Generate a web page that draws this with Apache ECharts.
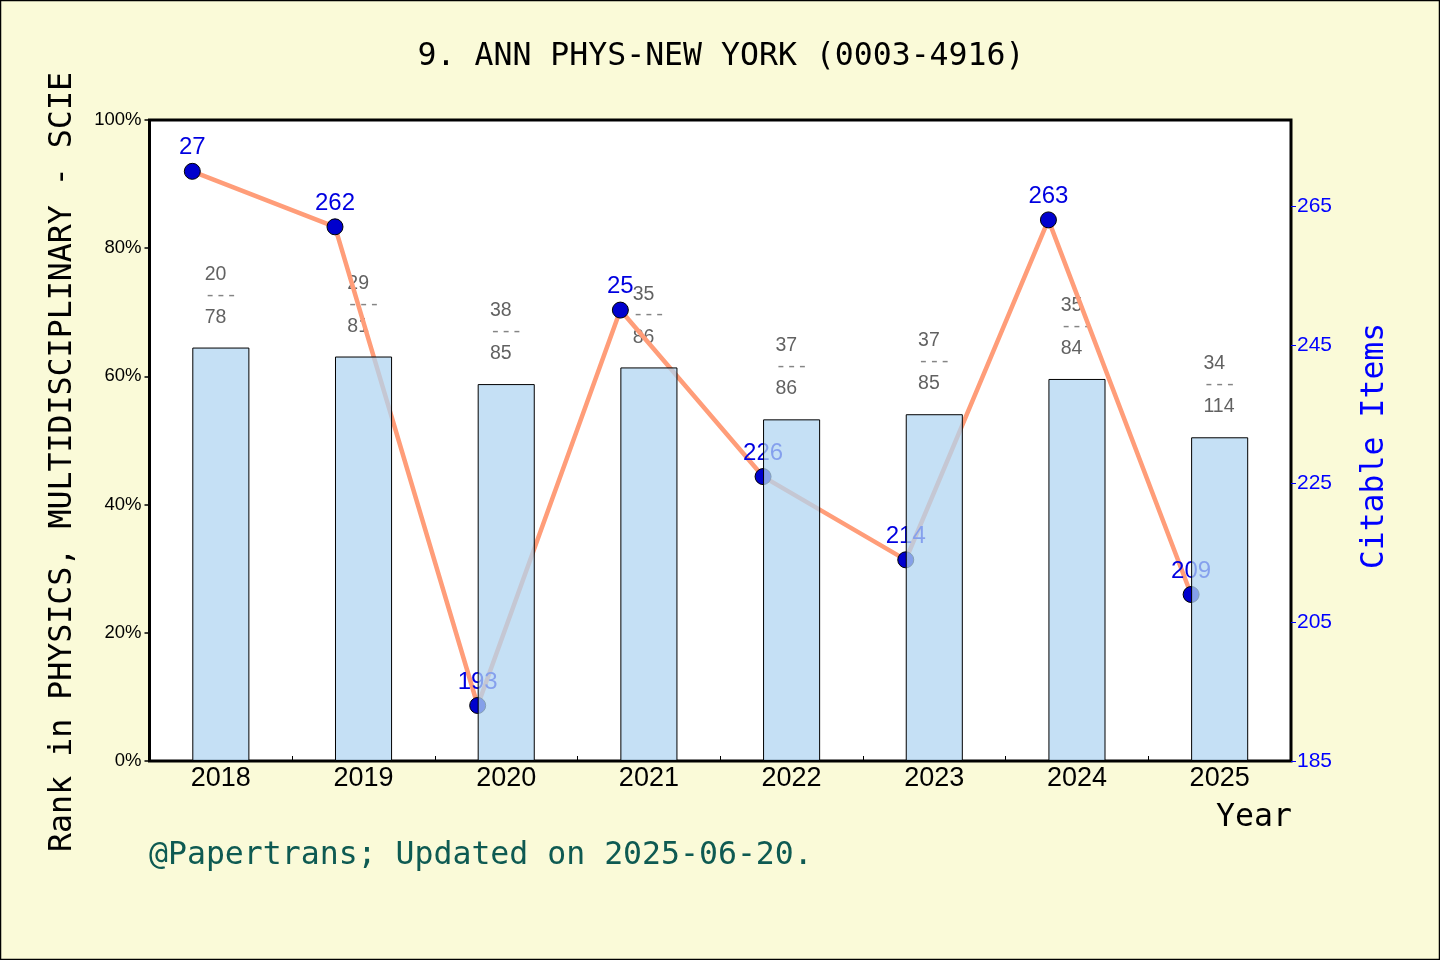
<!DOCTYPE html>
<html>
<head>
<meta charset="utf-8">
<script src="https://cdn.jsdelivr.net/npm/echarts@6/dist/echarts.min.js"></script>
<style>
html,body{margin:0;padding:0;background:#FAFAD8;}
#chart{width:1440px;height:960px;}
</style>
</head>
<body>
<div id="chart"></div>
<script>
// ---- data ----
const years = ['2018', '2019', '2020', '2021', '2022', '2023', '2024', '2025'];
const barPercent = [64.5, 63.1, 58.8, 61.4, 53.3, 54.1, 59.6, 50.5];
const rankNums = [20, 29, 38, 35, 37, 37, 35, 34];
const rankTotals = [78, 81, 85, 86, 86, 85, 84, 114];
const citableItems = [270, 262, 193, 250, 226, 214, 263, 209];
const rightTicks = [185, 205, 225, 245, 265];
const titleText = '9. ANN PHYS-NEW YORK (0003-4916)';
const leftName = 'Rank in PHYSICS, MULTIDISCIPLINARY - SCIE';
const rightName = 'Citable Items';
const xName = 'Year';
const footerText = '@Papertrans; Updated on 2025-06-20.';

// ---- style ----
const MONO = '"DejaVu Sans Mono", "Liberation Mono", monospace';
const SANS = '"Liberation Sans", Arial, sans-serif';
const LINE_SHIFT = 0.2; // line points sit on the bars' left edges (bar width = 0.4 category)

const chart = echarts.init(document.getElementById('chart'), null, {renderer: 'canvas'});

const lineData = citableItems.map((v, i) => [i - LINE_SHIFT, v]);
const labelData = barPercent.map((v, i) => ({value: v, rank: rankNums[i], total: rankTotals[i]}));

function gText(x, y, text, size, color, opts) {
  return Object.assign({
    type: 'text', x: x, y: y, silent: true, z: 100,
    style: {
      text: text, fontSize: size, fontFamily: MONO, fill: color,
      align: 'center', verticalAlign: 'middle',
      textAlign: 'center', textVerticalAlign: 'middle'
    }
  }, opts || {});
}

const option = {
  animation: false,
  backgroundColor: '#FAFAD8',
  grid: {
    left: 149.5, right: 149, top: 120, bottom: 199,
    show: true, backgroundColor: '#ffffff', borderColor: '#000000', borderWidth: 3
  },
  xAxis: [
    {
      type: 'category', data: years, boundaryGap: true, position: 'bottom',
      axisLine: {show: false, onZero: false},
      axisTick: {show: true, inside: true, length: 5, lineStyle: {color: '#000', width: 1}},
      axisLabel: {color: '#000', fontSize: 27, fontFamily: SANS, margin: 4},
      splitLine: {show: false}
    },
    {
      type: 'value', min: -0.5, max: 7.5, show: false,
      axisLine: {onZero: false}
    }
  ],
  yAxis: [
    {
      type: 'value', min: 0, max: 100, interval: 20, position: 'left',
      axisLine: {show: false, onZero: false},
      axisTick: {show: true, inside: false, length: 5, lineStyle: {color: '#000', width: 1.5}},
      axisLabel: {color: '#000', fontSize: 18.5, fontFamily: SANS, margin: 8, formatter: '{value}%'},
      splitLine: {show: false}
    },
    {
      type: 'value', min: 185, max: 277.4, position: 'right',
      axisLine: {show: false, onZero: false},
      axisTick: {show: true, inside: false, length: 5, lineStyle: {color: '#0000FF', width: 1}, customValues: rightTicks},
      axisLabel: {color: '#0000FF', fontSize: 21, fontFamily: SANS, margin: 6, customValues: rightTicks},
      splitLine: {show: false}
    }
  ],
  series: [
    {
      name: 'citable', type: 'line', xAxisIndex: 1, yAxisIndex: 1, z: 2,
      data: lineData,
      lineStyle: {color: '#FF9D79', width: 4.5},
      symbol: 'circle', symbolSize: 16,
      itemStyle: {color: '#0000CD', borderColor: '#000', borderWidth: 1},
      label: {
        show: true, position: 'top', distance: 3,
        color: '#0000E0', fontSize: 24, fontFamily: SANS,
        formatter: p => String(p.value[1]).replace(/0+$/, '')
      }
    },
    {
      name: 'rankLabels', type: 'scatter', xAxisIndex: 0, yAxisIndex: 0, z: 1,
      data: labelData, symbolSize: 1,
      itemStyle: {color: 'rgba(0,0,0,0)'},
      label: {
        show: true, position: 'top', distance: 19,
        formatter: p => '{n|' + p.data.rank + '}\n{d|---}\n{n|' + p.data.total + '}',
        rich: {
          n: {fontSize: 19.5, fontFamily: SANS, color: '#3a3a3a', lineHeight: 21.5, align: 'left'},
          d: {fontSize: 18, fontFamily: '"Liberation Mono", "DejaVu Sans Mono", monospace', color: '#666666', lineHeight: 21.5, align: 'left'}
        }
      }
    },
    {
      name: 'rank', type: 'bar', xAxisIndex: 0, yAxisIndex: 0, z: 3,
      data: barPercent, barWidth: '40%',
      itemStyle: {color: 'rgba(178,213,241,0.75)', borderColor: '#000', borderWidth: 1}
    }
  ],
  graphic: [
    {type: 'rect', silent: true, z: 100, shape: {x: 0.5, y: 0.5, width: 1439, height: 959},
     style: {fill: 'none', stroke: '#000', lineWidth: 1.5}},
    gText(721, 57, titleText, 31.5, '#000'),
    gText(63, 462, leftName, 31.6, '#000', {rotation: Math.PI / 2}),
    gText(1375, 446, rightName, 31.5, '#0000FF', {rotation: Math.PI / 2}),
    gText(1254, 818, xName, 31.5, '#000'),
    {type: 'text', x: 149, y: 856, silent: true, z: 100,
     style: {text: footerText, fontSize: 31.5, fontFamily: MONO, fill: '#0E5A52',
             align: 'left', verticalAlign: 'middle', textAlign: 'left', textVerticalAlign: 'middle'}}
  ]
};
chart.setOption(option);
</script>
</body>
</html>
